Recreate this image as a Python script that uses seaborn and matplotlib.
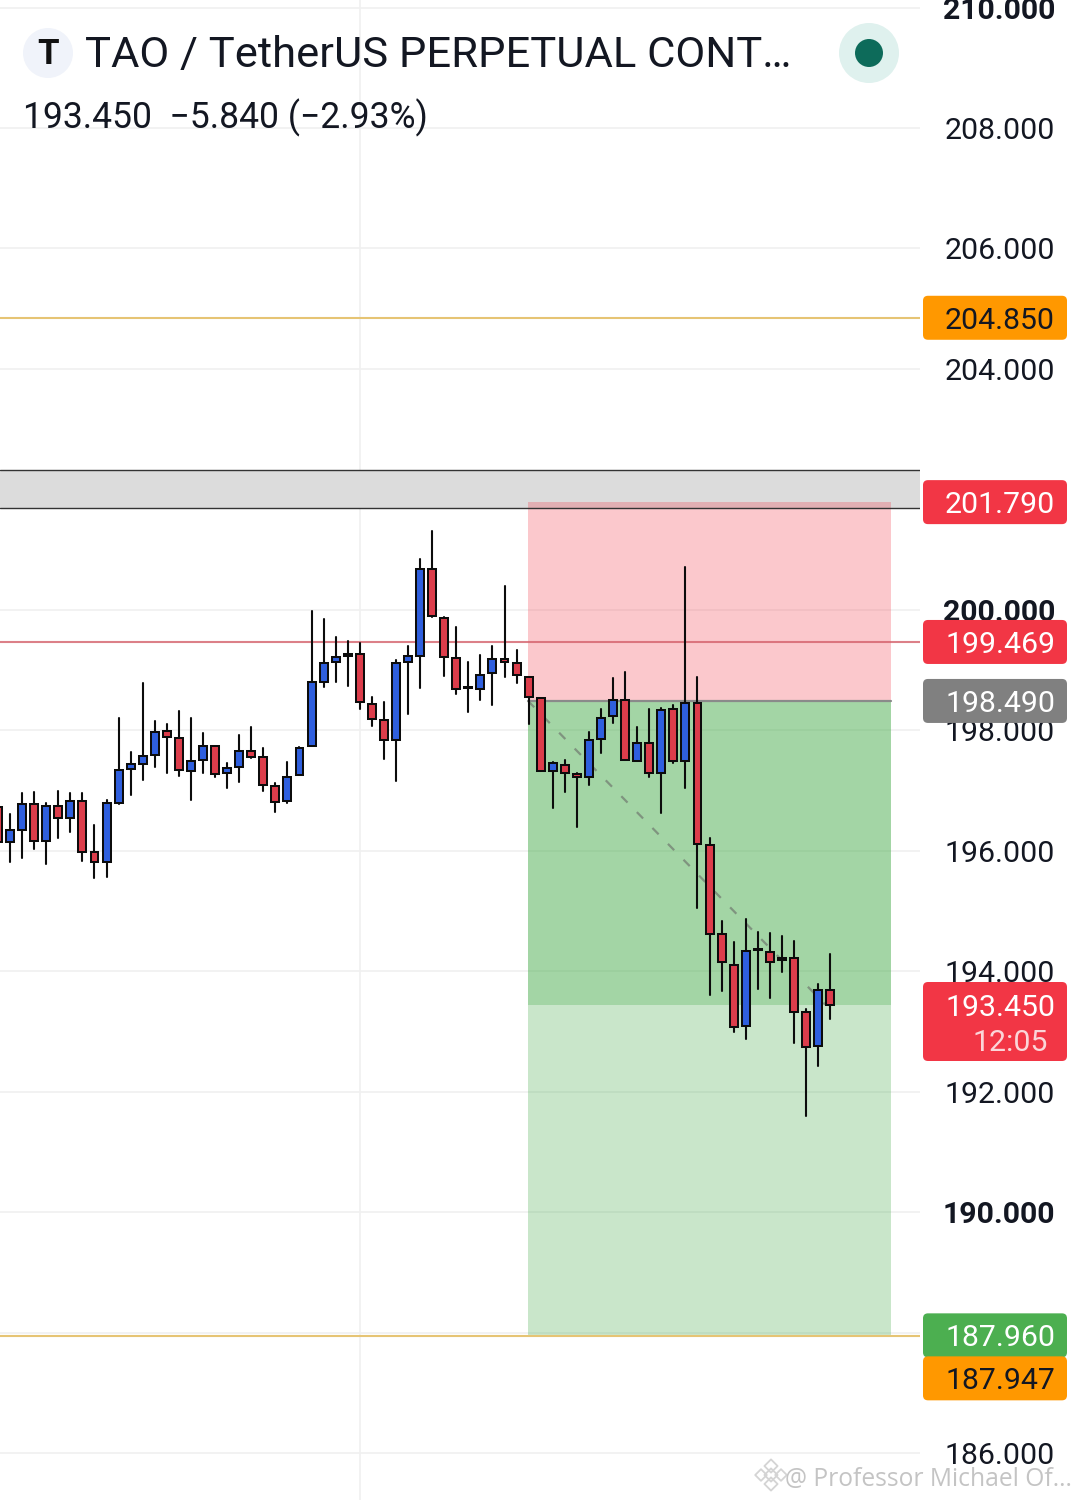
import numpy as np
import pandas as pd
import matplotlib
matplotlib.use("Agg")
import matplotlib.pyplot as plt
from matplotlib.patches import FancyBboxPatch, Circle
import seaborn as sns

# candles
opens = [196.73, 196.15, 196.35, 196.78, 196.17, 196.75, 196.55, 196.83, 195.98, 195.82,
         196.80, 197.36, 197.44, 197.59, 197.99, 197.88, 197.33, 197.51, 197.74, 197.29,
         197.39, 197.66, 197.56, 197.08, 196.83, 197.26, 197.74, 198.80, 199.14, 199.24,
         199.27, 198.44, 198.17, 197.84, 199.14, 199.24, 200.68, 199.87, 199.20, 198.70,
         198.69, 198.95, 199.19, 199.12, 198.89, 198.54, 197.33, 197.43, 197.28, 197.23,
         197.86, 198.24, 198.51, 197.49, 197.79, 197.29, 198.36, 197.49, 198.46, 196.10,
         194.62, 194.11, 193.09, 194.35, 194.33, 194.19, 194.22, 193.33, 192.76, 193.69]
highs = [196.80, 196.61, 196.96, 196.98, 196.80, 197.00, 196.96, 196.96, 196.43, 196.85,
         198.21, 197.65, 198.79, 198.16, 198.11, 198.32, 198.21, 197.96, 197.74, 197.46,
         197.92, 198.06, 197.71, 197.13, 197.48, 197.72, 199.98, 199.85, 199.55, 199.49,
         199.45, 198.56, 198.47, 199.17, 199.40, 200.85, 201.31, 199.88, 199.72, 199.14,
         199.25, 199.40, 200.40, 199.33, 198.89, 198.54, 197.48, 197.51, 197.29, 197.97,
         198.36, 198.87, 198.97, 198.06, 198.36, 198.37, 198.42, 200.71, 198.89, 196.21,
         194.84, 194.49, 194.87, 194.66, 194.64, 194.59, 194.50, 193.38, 193.79, 194.29]
lows = [196.02, 195.82, 195.88, 196.03, 195.79, 196.22, 196.32, 195.83, 195.55, 195.57,
        196.78, 196.93, 197.18, 197.39, 197.29, 197.24, 196.85, 197.29, 197.23, 197.05,
        197.15, 197.54, 196.99, 196.65, 196.80, 197.26, 197.74, 198.72, 198.80, 198.74,
        198.36, 198.07, 197.53, 197.16, 198.27, 198.70, 199.88, 198.90, 198.61, 198.31,
        198.51, 198.42, 198.89, 198.79, 198.11, 197.33, 196.71, 196.98, 196.40, 197.09,
        197.63, 198.12, 197.51, 197.49, 197.23, 196.63, 197.46, 197.05, 195.06, 193.61,
        193.67, 192.99, 192.88, 193.71, 193.56, 193.99, 192.81, 191.60, 192.43, 193.21]
closes = [196.15, 196.34, 196.78, 196.17, 196.75, 196.55, 196.83, 195.98, 195.82, 196.80,
          197.34, 197.44, 197.58, 197.98, 197.89, 197.34, 197.49, 197.74, 197.28, 197.38,
          197.66, 197.56, 197.10, 196.81, 197.23, 197.71, 198.80, 199.12, 199.22, 199.27,
          198.47, 198.19, 197.84, 199.12, 199.24, 200.68, 199.90, 199.22, 198.69, 198.72,
          198.92, 199.19, 199.14, 198.92, 198.56, 197.33, 197.46, 197.29, 197.23, 197.84,
          198.21, 198.51, 197.51, 197.79, 197.29, 198.34, 197.49, 198.46, 196.11, 194.62,
          194.16, 193.08, 194.34, 194.37, 194.16, 194.22, 193.33, 192.75, 193.69, 193.45]

price_ticks = [186, 188, 190, 192, 194, 196, 198, 200, 202, 204, 206, 208, 210]
tick_labels = ["186.000", "190.000", "192.000", "194.000", "196.000", "198.000",
               "200.000", "204.000", "206.000", "208.000", "210.000"]
tick_values = [186, 190, 192, 194, 196, 198, 200, 204, 206, 208, 210]
bold_ticks = ["190.000", "200.000", "210.000"]

stop_price = 201.79
entry_price = 198.49
last_price = 193.45
target_price = 187.96
upper_level = 204.85
lower_level = 187.947
red_level = 199.469
band_top = 202.33
band_bottom = 201.69
position_start = 43.95
position_end = 74.05

BLUE = "#2f5fde"
RED = "#dc3d4b"
TAG_RED = "#f23645"
TAG_ORANGE = "#ff9800"
TAG_GREEN = "#4caf50"
TAG_GREY = "#808080"
TICK_SIZE = 21.8

sns.set_theme(style="white")
plt.rcParams["font.family"] = ["Roboto", "DejaVu Sans"]

df = pd.DataFrame({"i": np.arange(len(opens)), "open": opens, "high": highs, "low": lows, "close": closes})
df["body"] = (df["close"] - df["open"]).abs()
df["base"] = df[["open", "close"]].min(axis=1)

W, H = 1080, 1500
fig = plt.figure(figsize=(W / 100, H / 100), dpi=100, facecolor="white")
ax = fig.add_axes([0, 0, 920 / W, 1])

# wicks: one short line per candle
wicks = df.melt(id_vars="i", value_vars=["low", "high"], value_name="price")
sns.lineplot(data=wicks, x="i", y="price", units="i", estimator=None, sort=False,
             color="#0c0c0c", linewidth=1.5, legend=False, ax=ax, zorder=3)

# bodies
for sub, colour in [(df[df["close"] >= df["open"]], BLUE), (df[df["close"] < df["open"]], RED)]:
    sns.barplot(data=sub, x="i", y="body", bottom=sub["base"].values, native_scale=True,
                width=0.66, color=colour, saturation=1, edgecolor="#0c0c0c", linewidth=1.45,
                errorbar=None, ax=ax, zorder=4)

# position tool
ax.fill_between([position_start, position_end], entry_price, stop_price, color=TAG_RED, alpha=0.27, lw=0, zorder=1)
ax.fill_between([position_start, position_end], target_price, entry_price, color=TAG_GREEN, alpha=0.3, lw=0, zorder=1)
ax.fill_between([position_start, position_end], last_price, entry_price, color=TAG_GREEN, alpha=0.3, lw=0, zorder=1)
ax.plot([position_start, position_end], [entry_price, entry_price], color="#8a8a8a", lw=1.6, zorder=2)
ax.plot([position_start, len(opens) - 1.4], [entry_price, last_price], color="#7f947f", lw=1.6,
        dashes=(4, 6), dash_capstyle="butt", zorder=2)

# levels
ax.axhspan(band_bottom, band_top, color="#dcdcdc", lw=0, zorder=0.8)
ax.axhline(band_top, color="#333333", lw=1.0, zorder=2)
ax.axhline(band_bottom, color="#333333", lw=1.0, zorder=2)
ax.axhline(upper_level, color="#e6c474", lw=1.5, zorder=2)
ax.axhline(lower_level, color="#e6c474", lw=1.5, zorder=2)
ax.axhline(red_level, color="#d4606b", lw=1.5, alpha=0.8, zorder=2)

ax.set_xlim(2 / 12.06, 922 / 12.06)
ax.set_ylim(185.227, 210.1245)
ax.set_yticks(price_ticks)
ax.set_xticks([30])
ax.grid(True, color="#f0f0f0", lw=1.2)
ax.set_axisbelow(True)
ax.tick_params(left=False, bottom=False, labelleft=False, labelbottom=False)
ax.set_xlabel("")
ax.set_ylabel("")
sns.despine(ax=ax, left=True, bottom=True)
ax.patch.set_alpha(0)

# overlay in pixels for the price column, tags and header
ui = fig.add_axes([0, 0, 1, 1], zorder=5)
ui.set_xlim(0, W)
ui.set_ylim(H, 0)
ui.axis("off")


def py(price):
    return H - ax.transData.transform((0, price))[1]


for label, value in zip(tick_labels, tick_values):
    ui.text(1055, py(value), label, ha="right", va="center_baseline", fontsize=TICK_SIZE, color="#131722",
            fontweight="bold" if label in bold_ticks else "normal", zorder=1)


def tag(cy, colour, text, text_colour="white", height=44):
    ui.add_patch(FancyBboxPatch((927, cy - height / 2 + 4), 136, height - 8, boxstyle="round,pad=4,rounding_size=5",
                                fc=colour, ec="none", zorder=2))
    ui.text(1055, cy, text, ha="right", va="center_baseline", fontsize=TICK_SIZE, color=text_colour, zorder=3)


tag(py(upper_level), TAG_ORANGE, "204.850", "#131722")
tag(py(stop_price), TAG_RED, "201.790")
tag(py(red_level), TAG_RED, "199.469")
tag(py(entry_price), TAG_GREY, "198.490")
ui.add_patch(FancyBboxPatch((927, 986), 136, 71, boxstyle="round,pad=4,rounding_size=5", fc=TAG_RED, ec="none", zorder=2))
ui.text(1055, py(last_price), "193.450", ha="right", va="center_baseline", fontsize=TICK_SIZE, color="white", zorder=3)
ui.text(1048, 1040, "12:05", ha="right", va="center_baseline", fontsize=TICK_SIZE, color="#fbd5d8", zorder=3)
tag(py(target_price), TAG_GREEN, "187.960")
tag(py(target_price) + 43, TAG_ORANGE, "187.947", "#131722")

# header
ui.add_patch(Circle((48, 53), 25, fc="#f0f3fa", ec="none"))
ui.text(48, 54, "T", ha="center", va="center", fontsize=25, fontweight="bold", color="#111111")
ui.text(85, 51, "TAO / TetherUS PERPETUAL CONT…", ha="left", va="center_baseline", fontsize=31.3, color="#131722")
ui.text(23, 114, "193.450  −5.840 (−2.93%)", ha="left", va="center_baseline", fontsize=25.6, color="#131722")
ui.add_patch(Circle((869, 53), 30, fc="#dff1ee", ec="none"))
ui.add_patch(Circle((869, 53), 14, fc="#0d6b5a", ec="none"))

# watermark
for dx, dy, s in [(0, 0, 45), (-10, 0, 35), (10, 0, 35), (0, -9, 45), (0, 9, 45)]:
    ui.scatter(771 + dx, 1475 + dy, marker="D", s=s, facecolor="none", edgecolor="#d4d4d4", linewidth=1.3, zorder=6)
ui.text(1072, 1476, "@ Professor Michael Of...", ha="right", va="center_baseline", fontsize=17.7,
        family="Open Sans", color="#c4c4c4", zorder=6)

fig.savefig("out.png", dpi=100, facecolor="white")
